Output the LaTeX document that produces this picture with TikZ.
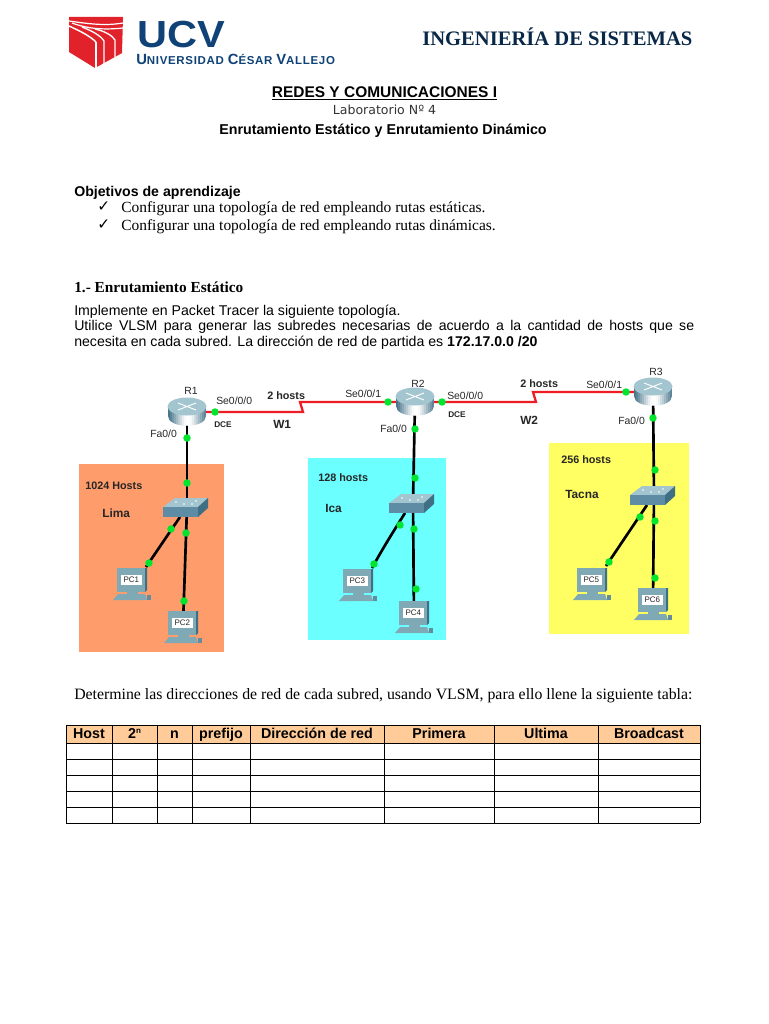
\documentclass[tikz,border=0pt]{standalone}
\usepackage{fontspec}
\usepackage{graphicx}
\setmainfont{Liberation Serif}
\setsansfont{Liberation Sans}
\newfontfamily\djv{DejaVu Sans}
\definecolor{ucvblue}{HTML}{0F4277}
\definecolor{ucvred}{HTML}{E2222B}
\definecolor{linkred}{HTML}{EE1C25}
\definecolor{linkgreen}{HTML}{00E62E}
\definecolor{orangebg}{HTML}{FF9C6B}
\definecolor{cyanbg}{HTML}{6BFFFF}
\definecolor{yellowbg}{HTML}{FFFF63}
\definecolor{headbg}{HTML}{FFCC99}
\definecolor{devtop}{HTML}{A3C5D0}
\definecolor{devside}{HTML}{5E8CA5}
\definecolor{devdark}{HTML}{3F6F85}
\definecolor{pcbody}{HTML}{7FA9B5}
\tikzset{
  txt/.style={inner sep=0pt,anchor=base west,text=black},
  ctxt/.style={inner sep=0pt,anchor=base,text=black},
  serial/.style={draw=linkred,line width=1.7pt},
  eth/.style={draw=black,line width=2pt},
  dot/.style={circle,fill=linkgreen,inner sep=0pt,minimum size=5.6pt},
  lab/.style={inner sep=0pt,anchor=base west,font=\sffamily\fontsize{7.8}{9}\selectfont,text=black!85},
  labb/.style={inner sep=0pt,anchor=base west,font=\sffamily\bfseries\fontsize{8.1}{9}\selectfont,text=black!85},
  labw/.style={inner sep=0pt,anchor=base west,font=\sffamily\bfseries\fontsize{8.9}{10}\selectfont,text=black!85},
  labd/.style={inner sep=0pt,anchor=base west,font=\sffamily\bfseries\fontsize{6.2}{7}\selectfont,text=black!85},
  labp/.style={inner sep=0pt,anchor=center,font=\sffamily\fontsize{6}{7}\selectfont,text=black!85},
  tcell/.style={inner sep=0pt,anchor=base,font=\sffamily\bfseries\fontsize{10.7}{12}\selectfont},
  tline/.style={draw=black,line width=0.7pt},
  router/.pic={
    \begin{scope}
      \clip (-19,-5) -- (-19,4) .. controls (-19,17) and (19,17) .. (19,4) -- (19,-5) -- cycle;
      \foreach \xs/\mx in {-19/95,-17/85,-15/72,-13/60,-11/48,-9/36,-7/24,-5/12,-3/4,-1/0,1/0,3/4,5/12,7/24,9/36,11/48,13/60,15/72,17/85}
        \fill[devdark!\mx!white] (\xs,-6) rectangle ({\xs+2.2},18);
    \end{scope}
    \fill[devtop] (0,-5.5) ellipse[x radius=19.5,y radius=9];
    \draw[white,line width=0.7pt] (-9,-9) -- (9,-2) (9,-9) -- (-9,-2);
  },
  switchbox/.pic={
    \fill[devtop] (-24,0) -- (-12,-9) -- (21,-9) -- (11,0) -- cycle;
    \fill[devside] (-24,0) rectangle (11,10);
    \fill[devdark] (11,0) -- (21,-9) -- (21,1) -- (11,10) -- cycle;
    \fill[white] (-11,-5) circle[radius=.8] (9,-6) circle[radius=.8] (-3,-3) circle[radius=.8] (5,-3) circle[radius=.8];
  },
  pcbox/.pic={
    \fill[pcbody] (-15,-14) rectangle (13,10);
    \fill[devdark] (13,-14) -- (15,-14) -- (15,8) -- (13,10) -- cycle;
    \fill[white] (-11,-7) rectangle (10,3);
    \fill[pcbody] (-5,10) rectangle (6,12);
    \fill[pcbody] (-14,12) -- (13,12) -- (15,18) -- (-19,18) -- cycle;
    \fill[devdark!80] (15,13) rectangle (19,18);
  },
}
\begin{document}
\begin{tikzpicture}[x=0.75pt,y=-0.75pt]
\useasboundingbox (0,0) rectangle (768,1024);
\fill[white] (0,0) rectangle (768,1024);

% logo
\fill[ucvred] (69,17) -- (123,17) -- (122,53) -- (95,68) -- (69,52) -- cycle;
\draw[white,line width=.9pt] (69,21) .. controls (90,24) and (105,26) .. (123,23);
\draw[white,line width=.9pt] (72,23) .. controls (88,29) and (104,30) .. (123,28);
\draw[white,line width=1.1pt] (69,26) .. controls (80,31) and (90,36) .. (96,42);
\draw[white,line width=1.1pt] (96,42) -- (96,68);
\draw[white,line width=1pt] (82,27) .. controls (92,31) and (100,35) .. (104,41) -- (104,64);
\draw[white,line width=1pt] (95,29) .. controls (104,31) and (112,35) .. (115,40) -- (115,57);
\node[txt,text=ucvblue] (logoa) at (137,48) {\scalebox{1.1}[1]{\fontsize{28.3}{30}\selectfont\sffamily\bfseries UCV}};
\node[txt,text=ucvblue] (logob) at (136,64.5) {\resizebox{149pt}{!}{\sffamily\bfseries{\fontsize{9}{9}\selectfont U}{\fontsize{7}{9}\selectfont\addfontfeature{LetterSpace=6}NIVERSIDAD }{\fontsize{9}{9}\selectfont C}{\fontsize{7}{9}\selectfont\addfontfeature{LetterSpace=6}ÉSAR }{\fontsize{9}{9}\selectfont V}{\fontsize{7}{9}\selectfont\addfontfeature{LetterSpace=6}ALLEJO}}};

% head texts
\node[txt,font=\bfseries\fontsize{15.45}{18}\selectfont,text=ucvblue!60!black] (t0) at (422,46) {INGENIERÍA DE SISTEMAS};
\node[ctxt,font=\sffamily\bfseries\fontsize{11.6}{13}\selectfont] (t1) at (384.5,97.5) {\underline{REDES Y COMUNICACIONES I}};
\node[ctxt,font=\djv\fontsize{9.4}{11}\selectfont,text=black!80] (t2) at (384.5,114.5) {Laboratorio Nº 4};
\node[ctxt,font=\sffamily\bfseries\fontsize{10.7}{12}\selectfont] (t3) at (383,134) {Enrutamiento Estático y Enrutamiento Dinámico};
\node[txt,font=\sffamily\bfseries\fontsize{10.6}{12}\selectfont] (t4) at (74,196) {Objetivos de aprendizaje};
\node[txt,font=\djv\fontsize{11.5}{12}\selectfont] (c1) at (97,211.5) {✓};
\node[txt,font=\djv\fontsize{11.5}{12}\selectfont] (c2) at (97,229.5) {✓};
\node[txt,font=\fontsize{11.6}{13}\selectfont] (t5) at (121,212) {Configurar una topología de red empleando rutas estáticas.};
\node[txt,font=\fontsize{11.6}{13}\selectfont] (t6) at (121,230) {Configurar una topología de red empleando rutas dinámicas.};
\node[txt,font=\bfseries\fontsize{11.5}{13}\selectfont] (t7) at (74,292) {1.- Enrutamiento Estático};
\node[txt,font=\sffamily\fontsize{10.6}{12}\selectfont] (t8) at (74,315) {Implemente en Packet Tracer la siguiente topología.};
\node[txt,font=\sffamily\fontsize{10.6}{12}\selectfont] (t9) at (74,330) {\makebox[465pt][s]{Utilice VLSM para generar las subredes necesarias de acuerdo a la cantidad de hosts que se}};
\node[txt,font=\sffamily\fontsize{10.6}{12}\selectfont] (t10) at (74,346) {necesita en cada subred. La dirección de red de partida es \textbf{172.17.0.0 /20}};

% zones
\fill[orangebg] (79,464) rectangle (224,652);
\fill[cyanbg] (308,458) rectangle (446,640);
\fill[yellowbg] (549,443) rectangle (689,634);

% device anchors
\coordinate (r1) at (187,412);
\coordinate (r2) at (415,402);
\coordinate (r3) at (653,392);
\coordinate (s1) at (187,507);
\coordinate (s2) at (413,503);
\coordinate (s3) at (654,495);
\coordinate (p1) at (132,582);
\coordinate (p2) at (183,625);
\coordinate (p3) at (358,583);
\coordinate (p4) at (414,615);
\coordinate (p5) at (592,582);
\coordinate (p6) at (653,602);
\coordinate (z1a) at (303,412);
\coordinate (z1b) at (300,402);
\coordinate (z2a) at (536,402);
\coordinate (z2b) at (533,392);
\coordinate (s1p) at (180,517);
\coordinate (s2p) at (405,513);
\coordinate (s3p) at (647,505);
\coordinate (p1t) at (146,567);
\coordinate (p3t) at (372,568);
\coordinate (p5t) at (606,566);

% connectors
\draw[serial] (r1) -- (z1a) -- (z1b) -- (r2);
\draw[serial] (r2) -- (z2a) -- (z2b) -- (r3);
\draw[eth] (r1) -- (s1);
\draw[eth] (r2) -- (s2);
\draw[eth] (r3) -- (s3);
\draw[eth] (s1p) -- (p1t);
\draw[eth] (s1) -- (p2);
\draw[eth] (s2p) .. controls (393,532) and (383,548) .. (p3t);
\draw[eth] (s2) -- (p4);
\draw[eth] (s3p) -- (p5t);
\draw[eth] (s3) -- (p6);

% devices
\pic at (r1) {router};
\pic at (r2) {router};
\pic at (r3) {router};
\pic at (s1) {switchbox};
\pic at (s2) {switchbox};
\pic at (s3) {switchbox};
\pic at (p1) {pcbox};
\pic at (p2) {pcbox};
\pic at (p3) {pcbox};
\pic at (p4) {pcbox};
\pic at (p5) {pcbox};
\pic at (p6) {pcbox};

% link dots
\node[dot] (d1) at (215,412) {};
\node[dot] (d2) at (388,402) {};
\node[dot] (d3) at (442,402) {};
\node[dot] (d4) at (626,392) {};
\node[dot] (d5) at (187,438) {};
\node[dot] (d6) at (187,483) {};
\node[dot] (d7) at (171,529) {};
\node[dot] (d8) at (149,563) {};
\node[dot] (d9) at (186,533) {};
\node[dot] (d10) at (184,601) {};
\node[dot] (d11) at (415,429) {};
\node[dot] (d12) at (415,478) {};
\node[dot] (d13) at (400,525) {};
\node[dot] (d14) at (414,529) {};
\node[dot] (d15) at (374,564) {};
\node[dot] (d16) at (416,589) {};
\node[dot] (d17) at (653,418) {};
\node[dot] (d18) at (655,470) {};
\node[dot] (d19) at (640,517) {};
\node[dot] (d20) at (655,521) {};
\node[dot] (d21) at (609,562) {};
\node[dot] (d22) at (655,578) {};

% labels
\node[lab] (l1) at (184,394) {R1};
\node[lab] (l2) at (411,387) {R2};
\node[lab] (l3) at (649,375) {R3};
\node[lab] (l4) at (216,404) {Se0/0/0};
\node[lab] (l5) at (345,397) {Se0/0/1};
\node[lab] (l6) at (447,399) {Se0/0/0};
\node[lab] (l7) at (586,388) {Se0/0/1};
\node[lab] (l8) at (150,437) {Fa0/0};
\node[lab] (l9) at (380,432) {Fa0/0};
\node[lab] (l10) at (618,424) {Fa0/0};
\node[labb] (l11) at (267,399) {2 hosts};
\node[labb] (l12) at (520,387) {2 hosts};
\node[labd] (l13) at (214,427) {DCE};
\node[labd] (l14) at (448,417) {DCE};
\node[labw] (l15) at (273,428) {W1};
\node[labw] (l16) at (520,424) {W2};
\node[labb] (l17) at (85,489) {1024 Hosts};
\node[labb] (l18) at (318,481) {128 hosts};
\node[labb] (l19) at (561,463) {256 hosts};
\node[labw] (l20) at (102,517) {Lima};
\node[labw] (l21) at (325,512) {Ica};
\node[labw] (l22) at (565,498) {Tacna};
\node[labp] (n1) at ([xshift=-.5pt,yshift=1.5pt]p1) {PC1};
\node[labp] (n2) at ([xshift=-.5pt,yshift=1.5pt]p2) {PC2};
\node[labp] (n3) at ([xshift=-.5pt,yshift=1.5pt]p3) {PC3};
\node[labp] (n4) at ([xshift=-.5pt,yshift=1.5pt]p4) {PC4};
\node[labp] (n5) at ([xshift=-.5pt,yshift=1.5pt]p5) {PC5};
\node[labp] (n6) at ([xshift=-.5pt,yshift=1.5pt]p6) {PC6};

\node[txt,font=\fontsize{11.85}{13}\selectfont] (t11) at (74,699) {Determine las direcciones de red de cada subred, usando VLSM, para ello llene la siguiente tabla:};

% table
\fill[headbg] (66,725) rectangle (700,743);
\foreach \yy in {725,743,759,775,791,807,823} \draw[tline] (66,\yy) -- (700,\yy);
\foreach \xx in {66,112,157,192,250,384,494,598,700} \draw[tline] (\xx,725) -- (\xx,823);
\node[tcell] (h1) at (89,738) {Host};
\node[tcell] (h2) at (134.5,738) {2\raisebox{3.5pt}{\fontsize{6}{7}\selectfont n}};
\node[tcell] (h3) at (174.5,738) {n};
\node[tcell] (h4) at (221,738) {prefijo};
\node[tcell] (h5) at (317,738) {Dirección de red};
\node[tcell] (h6) at (439,738) {Primera};
\node[tcell] (h7) at (546,738) {Ultima};
\node[tcell] (h8) at (649,738) {Broadcast};
\end{tikzpicture}
\end{document}
